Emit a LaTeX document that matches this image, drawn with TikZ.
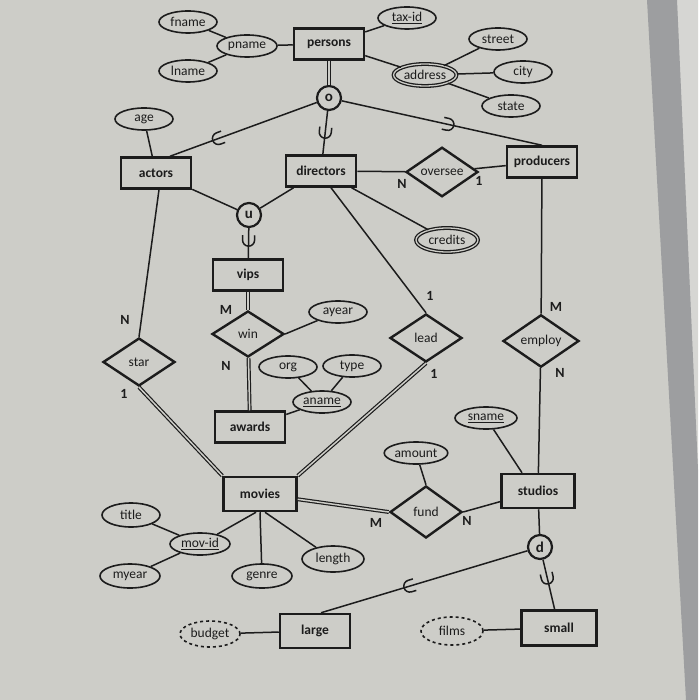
\documentclass[tikz,border=0pt]{standalone}
\usepackage{fontspec}
\setmainfont{Carlito}
\usepackage{tikz}
\usetikzlibrary{shapes.geometric,decorations.markings,calc}
\definecolor{Paper}{HTML}{CDCDC8}
\definecolor{PaperLight}{HTML}{D6D6D3}
\definecolor{Shade}{HTML}{9D9EA0}
\definecolor{Ink}{HTML}{1C1C1C}
\newcommand\erfont{\fontsize{13.5}{15}\selectfont}

\tikzset{
  entity/.style={draw=Ink, line width=2.5pt, fill=Paper, text=Ink, minimum width=70pt, minimum height=31pt, font=\erfont\bfseries},
  attr/.style={draw=Ink, ellipse, line width=1.6pt, fill=Paper, text=Ink, minimum width=58pt, minimum height=22pt, inner sep=1pt, font=\erfont},
  multiattr/.style={attr, line width=1.3pt, double=Paper, double distance=1.3pt},
  derived/.style={attr, dashed},
  rel/.style={draw=Ink, diamond, line width=2.4pt, fill=Paper, text=Ink, minimum width=72pt, minimum height=48pt, inner sep=0pt, font=\erfont},
  disc/.style={draw=Ink, circle, line width=2.2pt, fill=Paper, text=Ink, minimum size=24pt, inner sep=0pt, font=\fontsize{15}{16}\selectfont\bfseries},
  card/.style={text=Ink, font=\fontsize{14}{16}\selectfont\bfseries},
  link/.style={draw=Ink, line width=1.5pt},
  total/.style={draw=Ink, line width=1.2pt, double=Paper, double distance=1.5pt},
  subset/.style={postaction={decorate, decoration={markings, mark=at position #1 with {\draw[Ink, line width=1.5pt] (-5pt,6pt) -- (0,6pt) arc (90:-90:6pt) -- (-5pt,-6pt);}}}}
}

\begin{document}
\begin{tikzpicture}[x=1pt, y=-1pt]
  % paper and shadow of the photo
  \fill[Paper] (0,0) rectangle (698,700);
  \fill[PaperLight] (677,0) -- (698,0) -- (698,470) -- cycle;
  \fill[Shade] (647,0) -- (677,0) -- (698,470) -- (698,700) -- (686,700) -- cycle;

  % persons and its attributes
  \node[attr] (fname) at (188,22) {fname};
  \node[attr, minimum width=60pt] (pname) at (247,46) {pname};
  \node[attr] (lname) at (188,71) {lname};
  \node[entity] (persons) at (329,44) {persons};
  \node[attr] (taxid) at (407,18) {\underline{tax-id}};
  \node[multiattr] (address) at (425,75) {address};
  \node[attr] (street) at (498,39) {street};
  \node[attr] (city) at (523,72) {city};
  \node[attr] (state) at (511,106) {state};
  \node[disc] (o) at (329,98) {o};

  % subclasses
  \node[attr] (age) at (144,119) {age};
  \node[entity] (actors) at (156,173) {actors};
  \node[entity] (directors) at (321,171) {directors};
  \node[rel] (oversee) at (442,172) {oversee};
  \node[entity] (producers) at (542,162) {producers};
  \node[multiattr, minimum width=62pt, minimum height=24pt] (credits) at (447,240) {credits};
  \node[disc] (u) at (249,215) {u};
  \node[entity] (vips) at (248,275) {vips};

  % middle part
  \node[rel, minimum height=46pt] (win) at (248,334) {win};
  \node[attr] (ayear) at (338,312) {ayear};
  \node[attr] (org) at (288,367) {org};
  \node[attr] (type) at (352,366) {type};
  \node[attr] (aname) at (322,402) {\underline{aname}};
  \node[entity] (awards) at (250,427) {awards};
  \node[rel] (star) at (139,362) {star};
  \node[rel] (lead) at (426,338) {lead};
  \node[rel, minimum width=76pt] (employ) at (541,341) {employ};
  \node[attr, minimum width=62pt] (sname) at (486,418) {\underline{sname}};
  \node[attr, minimum width=62pt] (amount) at (416,453) {amount};
  \node[rel, minimum height=52pt] (fund) at (426,512) {fund};
  \node[entity, minimum width=73pt, minimum height=34pt] (studios) at (538,491) {studios};
  \node[entity, minimum width=73pt, minimum height=34pt] (movies) at (260,494) {movies};

  % movie attributes and studio subclasses
  \node[attr, minimum height=24pt] (title) at (131,515) {title};
  \node[attr, minimum width=60pt] (movid) at (200,544) {\underline{mov-id}};
  \node[attr, minimum width=60pt, minimum height=24pt] (myear) at (130,576) {myear};
  \node[attr, minimum width=60pt, minimum height=24pt] (genre) at (262,576) {genre};
  \node[attr, minimum width=62pt, minimum height=26pt] (length) at (333,559) {length};
  \node[disc] (d) at (540,547) {d};
  \node[entity, minimum height=34pt] (large) at (315,631) {large};
  \node[derived, minimum width=60pt, minimum height=26pt] (budget) at (210,634) {budget};
  \node[derived, minimum width=62pt, minimum height=28pt] (films) at (452,631) {films};
  \node[entity, minimum width=75pt, minimum height=35pt] (small) at (559,628) {small};

  % cardinalities
  \node[card] (nStar) at (125,320) {N};
  \node[card] (oneStar) at (124,394) {1};
  \node[card] (mWin) at (226,310) {M};
  \node[card] (nWin) at (226,366) {N};
  \node[card] (oneLeadT) at (430,296) {1};
  \node[card] (oneLeadB) at (434,374) {1};
  \node[card] (mEmploy) at (556,307) {M};
  \node[card] (nEmploy) at (560,373) {N};
  \node[card] (nOversee) at (402,184) {N};
  \node[card] (oneOversee) at (479,181) {1};
  \node[card] (mFund) at (376,523) {M};
  \node[card] (nFund) at (467,521) {N};

  % connectors
  \draw[link] (fname) -- (pname);
  \draw[link] (lname) -- (pname);
  \draw[link] (pname) -- (persons);
  \draw[link] (persons) -- (taxid);
  \draw[link] (persons) -- (address);
  \draw[link] (address) -- (street);
  \draw[link] (address) -- (city);
  \draw[link] (address) -- (state);
  \draw[total] (persons) -- (o);
  \draw[link, subset=0.67] (o) -- ($(actors.north)+(14,0)$);
  \draw[link, subset=0.49] (o) -- (directors);
  \draw[link, subset=0.53] (o) -- (producers.north);
  \draw[link] (age) -- (actors);
  \draw[link] (actors) -- (u);
  \draw[link] (directors) -- (u);
  \draw[link, subset=0.4] (u) -- (vips);
  \draw[total] (vips) -- (win);
  \draw[total] (win) -- (awards);
  \draw[link] (win.east) -- (ayear);
  \draw[link] (awards) -- (aname);
  \draw[link] (aname) -- (org);
  \draw[link] (aname) -- (type);
  \draw[link] ($(actors.south)+(3,0)$) -- (star.north);
  \draw[total] (star.south) -- (movies.north west);
  \draw[link] (directors) -- (credits);
  \draw[link] ($(directors.south)+(10,0)$) -- (lead.north);
  \draw[total] (lead.south) -- (movies.north east);
  \draw[link] (directors) -- (oversee);
  \draw[link] (oversee) -- (producers);
  \draw[link] (producers) -- (employ);
  \draw[link] (employ) -- (studios);
  \draw[link] (sname) -- ($(studios.north)+(-16,0)$);
  \draw[total] (movies) -- (fund.west);
  \draw[link] (fund.east) -- (studios);
  \draw[link] (amount) -- (fund.north);
  \draw[link] ($(movies.south)+(-4,0)$) -- (movid);
  \draw[link] (movies.south) -- (genre);
  \draw[link] ($(movies.south)+(5,0)$) -- (length);
  \draw[link] (movid) -- (title);
  \draw[link] (movid) -- (myear);
  \draw[link] (studios) -- (d);
  \draw[link, subset=0.57] (d) -- ($(large.north)+(6,0)$);
  \draw[link, subset=0.37] (d) -- (small);
  \draw[link] (budget) -- (large);
  \draw[link] (films) -- (small);
\end{tikzpicture}
\end{document}
